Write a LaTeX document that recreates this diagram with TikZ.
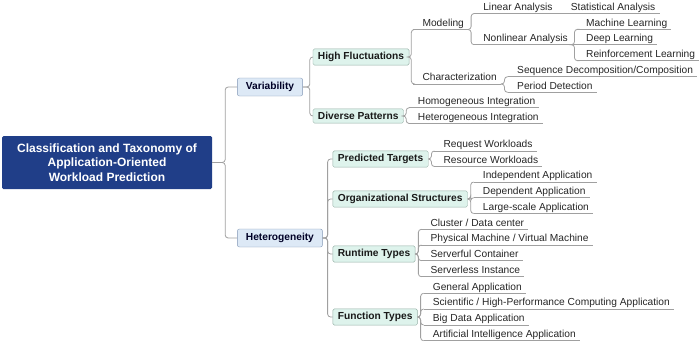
\documentclass[tikz,border=0pt]{standalone}
\usepackage{fontspec}
\setmainfont{Liberation Sans}
\usepackage{xcolor}
\usetikzlibrary{calc}

\definecolor{rootblue}{RGB}{32,62,136}
\definecolor{topicfill}{RGB}{221,233,246}
\definecolor{topicline}{RGB}{128,150,180}
\definecolor{subfill}{RGB}{222,243,236}
\definecolor{subline}{RGB}{150,176,166}
\definecolor{branchgray}{RGB}{160,160,160}

\begin{document}
\begin{tikzpicture}[x=1pt, y=-1pt,
    branch/.style={draw=branchgray, line width=0.8pt, rounded corners=3pt},
    root/.style={fill=rootblue, text=white, align=center, rounded corners=1.5pt,
        font=\bfseries\fontsize{12}{14.5}\selectfont, minimum width=210pt, minimum height=53pt},
    topic/.style={draw=topicline, fill=topicfill, rounded corners=2pt, anchor=west,
        font=\bfseries\fontsize{10.2}{12}\selectfont, text=black!85!blue,
        inner xsep=8.5pt, minimum height=18pt},
    subtopic/.style={draw=subline, fill=subfill, rounded corners=1.5pt, anchor=west,
        font=\bfseries\fontsize{10.2}{12}\selectfont, text=black!90,
        inner xsep=5pt, minimum height=14pt},
    leaf/.style={anchor=south west, font=\fontsize{10.2}{12}\selectfont, text=black!85,
        inner xsep=4pt, inner ysep=1pt, text height=7.5pt, text depth=2pt,
        execute at begin node={\hspace*{5pt}},
        append after command={(\tikzlastnode.south west) edge[branch] (\tikzlastnode.south east)}}]
    \useasboundingbox (0,0) rectangle (700,343);

    \node[root] (root) at (107,162.5) {Classification and Taxonomy of\\Application-Oriented\\Workload Prediction};

    \node[topic] (var) at ($(root.east)+(25,-75.5)$) {Variability};
    \node[topic] (het) at ($(root.east)+(25,75.5)$) {Heterogeneity};

    % variability
    \node[subtopic] (hf) at ($(var.east)+(10,-30)$) {High Fluctuations};
    \node[subtopic] (dp) at ($(var.east)+(10,29)$) {Diverse Patterns};

    \node[leaf] (mod) at ($(hf.east)+(4,-27.5)$) {Modeling};
    \node[leaf] (cha) at ($(hf.east)+(4,27)$) {Characterization};
    \node[leaf] (lin) at ($(mod.south east)+(6,-16)$) {Linear Analysis};
    \node[leaf] (nla) at ($(mod.south east)+(6,15.2)$) {Nonlinear Analysis};
    \node[leaf] (sta) at ($(lin.south east)+(5,0)$) {Statistical Analysis};
    \node[leaf] (mac) at ($(nla.south east)+(5,-15.4)$) {Machine Learning};
    \node[leaf] (dee) at ($(nla.south east)+(5,0)$) {Deep Learning};
    \node[leaf] (rei) at ($(nla.south east)+(5,16)$) {Reinforcement Learning};
    \node[leaf] (seq) at ($(cha.south east)+(7,-7.3)$) {Sequence Decomposition/Composition};
    \node[leaf] (per) at ($(cha.south east)+(7,8.3)$) {Period Detection};

    \node[leaf] (hom) at ($(dp.east)+(5,-8.3)$) {Homogeneous Integration};
    \node[leaf] (heg) at ($(dp.east)+(5,7.5)$) {Heterogeneous Integration};

    % heterogeneity
    \node[subtopic] (pt) at ($(het.east)+(10,-79)$) {Predicted Targets};
    \node[subtopic] (os) at ($(het.east)+(10,-39)$) {Organizational Structures};
    \node[subtopic] (rt) at ($(het.east)+(10,16)$) {Runtime Types};
    \node[subtopic] (ft) at ($(het.east)+(10,79)$) {Function Types};

    \node[leaf] (req) at ($(pt.east)+(6,-8)$) {Request Workloads};
    \node[leaf] (res) at ($(pt.east)+(6,7.5)$) {Resource Workloads};

    \node[leaf] (ind) at ($(os.east)+(6,-17)$) {Independent Application};
    \node[leaf] (dep) at ($(os.east)+(6,-1.3)$) {Dependent Application};
    \node[leaf] (lar) at ($(os.east)+(6,14.5)$) {Large-scale Application};

    \node[leaf] (clu) at ($(rt.east)+(6,-24.7)$) {Cluster / Data center};
    \node[leaf] (phy) at ($(rt.east)+(6,-9)$) {Physical Machine / Virtual Machine};
    \node[leaf] (sfc) at ($(rt.east)+(6,6.7)$) {Serverful Container};
    \node[leaf] (sli) at ($(rt.east)+(6,22.7)$) {Serverless Instance};

    \node[leaf] (gen) at ($(ft.east)+(6,-23.7)$) {General Application};
    \node[leaf] (sci) at ($(ft.east)+(6,-8)$) {Scientific / High-Performance Computing Application};
    \node[leaf] (big) at ($(ft.east)+(6,8)$) {Big Data Application};
    \node[leaf] (art) at ($(ft.east)+(6,23.7)$) {Artificial Intelligence Application};

    % connectors
    \draw[branch] (root.east) -- ++(13,0) |- (var.west);
    \draw[branch] (root.east) -- ++(13,0) |- (het.west);

    \draw[branch] (var.east) -- ++(7,0) |- (hf.west);
    \draw[branch] (var.east) -- ++(7,0) |- (dp.west);
    \draw[branch] (hf.east) -- ++(2,0) |- (mod.south west);
    \draw[branch] (hf.east) -- ++(2,0) |- (cha.south west);
    \draw[branch] (mod.south east) -- ++(3,0) |- (lin.south west);
    \draw[branch] (mod.south east) -- ++(3,0) |- (nla.south west);
    \draw[branch] (lin.south east) -- (sta.south west);
    \draw[branch] (nla.south east) -- ++(2.5,0) |- (mac.south west);
    \draw[branch] (nla.south east) -- (dee.south west);
    \draw[branch] (nla.south east) -- ++(2.5,0) |- (rei.south west);
    \draw[branch] (cha.south east) -- ++(3.5,0) |- (seq.south west);
    \draw[branch] (cha.south east) -- ++(3.5,0) |- (per.south west);
    \draw[branch] (dp.east) -- ++(2.5,0) |- (hom.south west);
    \draw[branch] (dp.east) -- ++(2.5,0) |- (heg.south west);

    \draw[branch] (het.east) -- ++(5,0) |- (pt.west);
    \draw[branch] (het.east) -- ++(5,0) |- (os.west);
    \draw[branch] (het.east) -- ++(5,0) |- (rt.west);
    \draw[branch] (het.east) -- ++(5,0) |- (ft.west);
    \foreach \kid in {req,res}
        \draw[branch] (pt.east) -- ++(3,0) |- (\kid.south west);
    \foreach \kid in {ind,dep,lar}
        \draw[branch] (os.east) -- ++(3,0) |- (\kid.south west);
    \foreach \kid in {clu,phy,sfc,sli}
        \draw[branch] (rt.east) -- ++(3,0) |- (\kid.south west);
    \foreach \kid in {gen,sci,big,art}
        \draw[branch] (ft.east) -- ++(3,0) |- (\kid.south west);
\end{tikzpicture}
\end{document}
